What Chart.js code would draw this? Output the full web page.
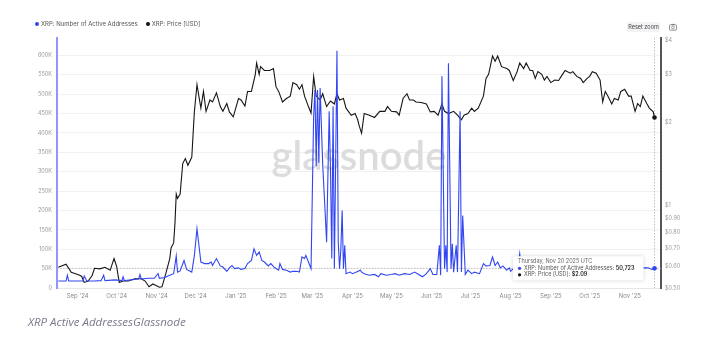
<!DOCTYPE html>
<html><head><meta charset="utf-8">
<script src="https://cdn.jsdelivr.net/npm/chart.js@4"></script>
<style>
html,body{margin:0;padding:0;background:#fff;width:706px;height:338px;overflow:hidden;font-family:Inter,"Noto Sans",sans-serif;}
#wrap{position:relative;width:706px;height:338px;}
#c{position:absolute;left:0;top:0;}
#legend{position:absolute;left:35px;top:20px;font-size:6px;color:#555;white-space:nowrap;line-height:8px;}
#legend span.d{display:inline-block;width:4px;height:4px;border-radius:50%;margin-right:2px;vertical-align:0px;}
#legend .it{margin-right:8px;}
#reset{position:absolute;left:627px;top:22px;width:33px;height:10px;background:#f3f3f5;border-radius:2px;font-size:5.5px;color:#444;text-align:center;line-height:10px;}
#cam{position:absolute;left:669px;top:23px;}
#cap{position:absolute;left:28px;top:314px;font-family:"Open Sans",Lato,sans-serif;font-style:italic;font-size:11.5px;color:#7a7a8c;}
</style></head>
<body><div id="wrap">
<canvas id="c" width="706" height="338"></canvas>
<div id="legend"><span class="it"><span class="d" style="background:#3146f2"></span>XRP: Number of Active Addresses</span><span class="it"><span class="d" style="background:#111"></span>XRP: Price [USD]</span></div>
<div id="reset">Reset zoom</div>
<svg id="cam" width="8" height="8" viewBox="0 0 8 8"><rect x="0.5" y="1.8" width="7" height="5.4" rx="0.8" fill="none" stroke="#777" stroke-width="0.8"/><circle cx="4" cy="4.5" r="1.4" fill="none" stroke="#777" stroke-width="0.7"/><rect x="2.5" y="0.9" width="3" height="1" fill="#777"/></svg>
<div id="cap">XRP Active AddressesGlassnode</div>
</div>
<script>
// day index = days since 2024-09-01
const monthDays = [0,30,61,91,122,153,181,212,242,273,303,334,365,395,426];
const monthLabels = ["Sep '24","Oct '24","Nov '24","Dec '24","Jan '25","Feb '25","Mar '25","Apr '25","May '25","Jun '25","Jul '25","Aug '25","Sep '25","Oct '25","Nov '25"];
const leftTicks = [0,50000,100000,150000,200000,250000,300000,350000,400000,450000,500000,550000,600000];
const rightTicks = [0.5,0.6,0.7,0.8,0.9,1,2,3,4];

const priceDay = [
 -15,-9,-5,0,3,5,8,11,13,17,
 21,25,28,30,32,35,39,44,49,52,
 55,58,63,65,68,71,72,74,75,76,
 77,79,81,83,85,88,90,92,95,97,
 99,102,104,107,110,112,115,117,120,124,
 126,129,131,134,137,138,140,141,144,148,
 151,153,155,158,161,164,166,169,171,173,
 175,178,180,182,184,187,189,192,195,198,
 200,202,205,207,211,214,216,217,219,221,
 225,229,233,237,239,242,246,248,251,254,
 256,259,261,265,269,272,275,278,281,283,
 286,290,293,296,298,301,304,306,309,313,
 315,317,320,322,324,327,331,333,336,339,
 341,344,346,349,351,353,355,358,360,362,
 365,368,371,373,376,380,382,385,388,390,
 393,395,397,400,403,405,407,409,412,414,
 417,419,422,425,427,430,432,434,436,439,
 441,444,445];
const priceVal = [
 0.595,0.61,0.57,0.56,0.552,0.524,0.53,0.554,0.59,0.587,
 0.595,0.58,0.64,0.6,0.524,0.53,0.53,0.54,0.54,0.53,
 0.505,0.517,0.503,0.505,0.565,0.64,0.7,0.73,0.86,1.1,
 1.06,1.1,1.42,1.48,1.4,1.5,2.2,2.75,2.26,2.6,
 2.2,2.42,2.38,2.57,2.29,2.2,2.35,2.19,2.1,2.45,
 2.42,2.3,2.6,2.6,3.0,3.3,3.0,3.2,3.1,3.1,
 3.15,2.7,2.6,2.38,2.45,2.5,2.8,2.75,2.65,2.75,
 2.5,2.29,2.17,2.95,2.5,2.42,2.55,2.29,2.4,2.34,
 2.55,2.42,2.45,2.26,2.13,2.16,2.05,1.96,1.83,2.16,
 2.13,2.09,2.2,2.2,2.29,2.2,2.19,2.13,2.45,2.55,
 2.42,2.42,2.38,2.37,2.34,2.19,2.2,2.13,2.34,2.2,
 2.16,2.2,2.13,2.05,2.13,2.16,2.26,2.2,2.26,2.5,
 2.9,3.0,3.5,3.35,3.5,3.2,3.15,3.1,2.85,3.07,
 3.3,3.15,3.3,3.1,3.1,2.9,3.07,3.0,2.86,2.95,
 2.8,2.86,2.85,2.95,3.1,3.03,3.07,2.95,2.9,2.8,
 2.9,2.95,3.07,3.03,2.86,2.38,2.6,2.5,2.34,2.45,
 2.42,2.6,2.65,2.5,2.5,2.2,2.35,2.29,2.5,2.35,
 2.26,2.19,2.09];

const addrDay = [
 -15,-9,-8,-7,-2,4,5,7,13,18,
 20,21,29,34,35,36,47,48,49,54,
 59,62,63,67,71,74,76,77,79,82,
 84,88,90,92,95,98,101,103,104,107,
 110,112,115,117,119,121,124,126,129,131,
 134,136,138,140,142,144,147,149,152,155,
 156,158,161,164,166,169,171,173,175,176,
 178,180,182,183,184,185,186,187,189,191,
 192,194,195,196,197,198,200,201,202,203,
 204,205,206,207,210,212,215,218,219,221,
 225,229,232,234,238,242,245,248,252,256,
 260,263,266,269,272,274,277,279,280,281,
 283,284,285,286,288,289,290,292,293,295,
 296,297,299,301,304,306,310,313,315,318,
 320,322,324,326,328,331,333,334,336,338,
 340,341,342,345,348,350,353,355,360,366,
 372,378,385,392,398,404,410,416,422,428,
 434,440,443,445];
// thousands of addresses
const addrValK = [
 18,18,33,18,18,18,31,18,18,19,
 33,19,21,19,29,19,23,35,23,25,
 25,37,25,27,33,37,83,41,44,71,
 48,41,84,153,67,63,63,67,58,76,
 57,54,43,52,58,50,52,48,50,63,
 71,101,84,93,71,67,57,63,52,46,
 63,48,46,41,43,43,41,80,76,84,
 67,50,443,511,315,511,323,516,319,187,
 118,456,306,76,469,50,612,118,50,101,
 200,50,110,37,41,37,41,46,41,37,
 33,35,29,37,33,35,37,33,37,35,
 41,35,29,37,50,35,35,110,33,546,
 50,110,41,580,50,114,41,110,41,456,
 41,187,35,46,37,41,37,63,57,58,
 80,58,67,52,57,46,52,43,50,54,
 63,88,54,48,41,35,41,50,46,52,
 44,55,48,50,58,47,53,45,55,49,
 52,52,48,50.723];

const tipTitle = "Thursday, Nov 20 2025 UTC";

const addrData = addrDay.map((d,i)=>({x:d,y:addrValK[i]*1000}));
const priceData = priceDay.map((d,i)=>({x:d,y:priceVal[i]}));
const BLUE = '#3146f2';

const overlay = {
  id:'overlay',
  beforeDatasetsDraw(chart){
    const {ctx, chartArea:a, scales} = chart;
    ctx.save();
    ctx.font = '600 40px Lato, "Open Sans", sans-serif';
    ctx.fillStyle = '#dcdcdc';
    ctx.textAlign = 'center';
    ctx.textBaseline = 'alphabetic';
    ctx.fillText('glassnode', (a.left+a.right)/2, 170);
    ctx.restore();
    const li = addrData.length-1;
    const px = scales.x.getPixelForValue(addrData[li].x);
    const py = scales.yL.getPixelForValue(addrData[li].y);
    ctx.save();
    ctx.setLineDash([1.5,1.5]);
    ctx.strokeStyle = '#b0b0b0';
    ctx.lineWidth = 0.8;
    ctx.beginPath();
    ctx.moveTo(px,a.top); ctx.lineTo(px,a.bottom);
    ctx.moveTo(a.left,py); ctx.lineTo(a.right,py);
    ctx.stroke();
    ctx.restore();
  },
  afterDraw(chart){
    const {ctx, scales} = chart;
    const li = addrData.length-1;
    const px = scales.x.getPixelForValue(addrData[li].x);
    const py = scales.yL.getPixelForValue(addrData[li].y);
    const v1 = Math.round(addrData[li].y).toLocaleString('en-US');
    const v2 = '$' + priceData[priceData.length-1].y.toFixed(2);
    const f = '5.5px Inter, "Noto Sans", sans-serif';
    const fb = '600 5.5px Inter, "Noto Sans", sans-serif';
    ctx.save();
    const l1 = 'XRP: Number of Active Addresses: ', l2 = 'XRP: Price [USD]: ';
    ctx.font = f;
    const w1 = ctx.measureText(l1).width, w2 = ctx.measureText(l2).width;
    ctx.font = fb;
    const wv1 = ctx.measureText(v1).width, wv2 = ctx.measureText(v2).width;
    const bw = Math.max(w1+wv1, w2+wv2) + 10 + 10;
    const bh = 24;
    const bx = px - 11 - bw, by = py - bh/2;
    ctx.shadowColor = 'rgba(0,0,0,0.18)';
    ctx.shadowBlur = 4;
    ctx.fillStyle = '#fff';
    ctx.beginPath(); ctx.roundRect(bx,by,bw,bh,2); ctx.fill();
    ctx.shadowBlur = 0; ctx.shadowColor='transparent';
    ctx.textBaseline = 'middle';
    ctx.fillStyle = '#666';
    ctx.font = f;
    ctx.fillText(tipTitle, bx+5, by+5.5);
    const rows = [[BLUE,l1,v1,w1],['#111',l2,v2,w2]];
    rows.forEach((r,i)=>{
      const y = by + 12 + i*6.5;
      ctx.fillStyle = r[0];
      ctx.beginPath(); ctx.arc(bx+6.5, y, 1.6, 0, Math.PI*2); ctx.fill();
      ctx.fillStyle = '#555'; ctx.font = f;
      ctx.fillText(r[1], bx+11, y);
      ctx.fillStyle = '#222'; ctx.font = fb;
      ctx.fillText(r[2], bx+11+r[3], y);
    });
    ctx.restore();
  }
};

new Chart(document.getElementById('c'), {
  type:'line',
  data:{datasets:[
    {label:'XRP: Number of Active Addresses', data:addrData, yAxisID:'yL', borderColor:BLUE, backgroundColor:BLUE, borderWidth:1.1,
     pointRadius:(c)=>c.dataIndex===addrData.length-1?2.3:0, pointBorderWidth:0, tension:0},
    {label:'XRP: Price [USD]', data:priceData, yAxisID:'yR', borderColor:'#161616', backgroundColor:'#161616', borderWidth:1.1,
     pointRadius:(c)=>c.dataIndex===priceData.length-1?2.3:0, pointBorderWidth:0, tension:0}
  ]},
  options:{
    responsive:false, animation:false, parsing:true,
    layout:{padding:{left:20,right:0,top:38,bottom:30}},
    plugins:{legend:{display:false}, tooltip:{enabled:false}},
    scales:{
      x:{type:'linear', min:-16, max:450,
        afterBuildTicks:(s)=>{s.ticks = monthDays.map(v=>({value:v}));},
        afterFit:(s)=>{s.height=20;},
        ticks:{autoSkip:false, maxRotation:0, padding:5, color:'#8a8a8a', font:{size:6, family:'Inter'},
          callback:(v)=>{const i=monthDays.indexOf(v); return i>=0?monthLabels[i]:'';}},
        grid:{display:false, drawTicks:false},
        border:{display:true, color:'#e6e6e6', width:1}},
      yL:{type:'linear', position:'left', min:0, max:645000,
        afterBuildTicks:(s)=>{s.ticks = leftTicks.map(v=>({value:v}));},
        afterFit:(s)=>{s.width=37;},
        ticks:{padding:5, color:'#9a9a9a', font:{size:5.5, family:'Inter'},
          callback:(v)=> v===0?'0':(v/1000)+'K'},
        grid:{color:'#f1f1f1', drawTicks:false},
        border:{display:true, color:'#8e97ff', width:2}},
      yR:{type:'logarithmic', position:'right', min:0.5, max:4.07,
        afterBuildTicks:(s)=>{s.ticks = rightTicks.map(v=>({value:v}));},
        afterFit:(s)=>{s.width=45;},
        ticks:{padding:4, color:'#9a9a9a', font:{size:5.5, family:'Inter'},
          callback:(v)=> v>=1 ? '$'+v : '$'+v.toFixed(2)},
        grid:{display:false, drawTicks:false},
        border:{display:true, color:'#555', width:2}}
    }
  },
  plugins:[overlay]
});
</script>
</body></html>
